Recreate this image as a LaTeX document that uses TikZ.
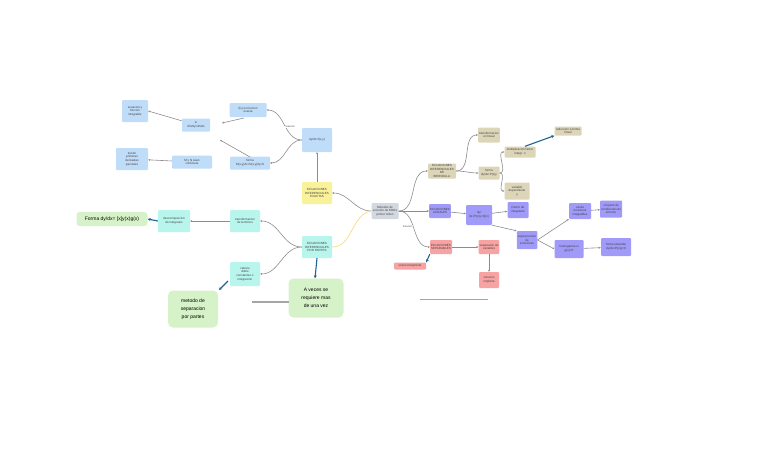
\documentclass[tikz,border=0pt]{standalone}
\usepackage{fontspec}
\setmainfont{Liberation Sans}
\usetikzlibrary{arrows.meta}
\definecolor{cblue}{HTML}{BFDCF8}
\definecolor{cyel}{HTML}{FAF29A}
\definecolor{ccyan}{HTML}{B8F5EC}
\definecolor{cgreen}{HTML}{D6F2C8}
\definecolor{cgray}{HTML}{D3D8E0}
\definecolor{ctan}{HTML}{DDD5B8}
\definecolor{cpur}{HTML}{A09AF8}
\definecolor{cred}{HTML}{F7A3A3}
\definecolor{carrow}{HTML}{1F6390}
\tikzset{
  bx/.style={rectangle,rounded corners=1pt,align=center,inner sep=1pt,font=\fontsize{3}{3.6}\selectfont,text=black!75},
  bl/.style={bx,fill=cblue},
  ye/.style={bx,fill=cyel},
  cy/.style={bx,fill=ccyan},
  gr/.style={bx,fill=cgreen,rounded corners=5pt,font=\fontsize{5}{8}\selectfont,text=black},
  ta/.style={bx,fill=ctan},
  pu/.style={bx,fill=cpur},
  rd/.style={bx,fill=cred},
  gy/.style={bx,fill=cgray},
  con/.style={draw=black!45,line width=0.6pt,-{Stealth[length=2pt,width=2pt]}},
  big/.style={draw=carrow,line width=1.1pt,-{Stealth[length=3pt,width=3pt]}},
  lab/.style={font=\fontsize{2.5}{3}\selectfont,text=black!70,fill=white,inner sep=0.5pt}
}
\begin{document}
\begin{tikzpicture}[x=1pt,y=-1pt]
\useasboundingbox (0,0) rectangle (768,466);
% left part
\node[bl,minimum width=26pt,minimum height=22pt] (ec) at (135,111) {ecuacion y\\funcion\\integrable};
\node[bl,minimum width=28pt,minimum height=13pt] (si) at (196,125) {si\\dm/dy=dn/dx};
\node[bl,minimum width=37pt,minimum height=14pt] (fx) at (248,110) {f(x) es funcion\\exacta};
\node[bl,minimum width=30pt,minimum height=24pt] (dy) at (317,140) {dy/dx=f(x,y)};
\node[bl,minimum width=40pt,minimum height=13pt] (fo) at (250,163) {forma\\M(x,y)dx+N(x,y)dy=0};
\node[bl,minimum width=40pt,minimum height=13pt] (mn) at (192,162) {M y N sean\\continuas};
\node[bl,minimum width=32pt,minimum height=22pt] (ti) at (132,159) {tienen\\primeras\\derivadas\\parciales};
\node[ye,minimum width=30pt,minimum height=22pt] (ex) at (317,193) {ECUACIONES\\DIFERENCIALES\\EXACTAS};
\node[cy,minimum width=30pt,minimum height=22pt] (pp) at (317,247) {ECUACIONES\\DIFERENCIALES\\POR PARTES};
\node[cy,minimum width=30pt,minimum height=22pt] (tr) at (245,221) {transformacion\\de terminos};
\node[cy,minimum width=32pt,minimum height=22pt] (de) at (174,221) {descomposicion\\de integrales};
\node[gr,minimum width=71pt,minimum height=14pt,rounded corners=3pt] (fd) at (112,219) {Forma dy/dx= [x]y(x)g(x)};
\node[cy,minimum width=30pt,minimum height=24pt] (ca) at (245,274) {calculo\\doble\\constantes o\\integracion};
\node[gr,minimum width=50pt,minimum height=37pt] (me) at (193,309) {metodo de\\separacion\\por partes};
\node[gr,minimum width=55pt,minimum height=39pt] (av) at (316,298) {A veces se\\requiere mas\\de una vez};
\coordinate (g1) at (252,302); \coordinate (g2) at (289,302);
\draw[black!35,line width=1.5pt] (g1) -- (g2);
\draw[con] (dy.west) to[out=180,in=0] node[lab,pos=0.45,above right=-1pt] {Solución} (fx.east);
\draw[con] (dy.west) to[out=180,in=0] (fo.east);
\coordinate (f1) at (244,118); \coordinate (f2) at (222,123);
\draw[con] (f1) -- (f2);
\coordinate (o1) at (250,157); \coordinate (o2) at (220,140);
\draw[con] (o1) -- (o2);
\draw[con] (si) -- (ec.east);
\draw[con] (mn) -- (ti);
\draw[con] (ex) -- (dy);
% right part
\node[gy,minimum width=27pt,minimum height=16pt] (mt) at (385,211) {Métodos de\\solución de EDOs\\primer orden};
\draw[con] (mt.west) to[out=180,in=0] (ex.east);
\draw[draw=cyel!80!orange,line width=0.7pt] (mt.west) to[out=190,in=0] (pp.east);
\draw[con] (pp.west) to[out=180,in=0] (tr.east);
\draw[con] (pp.west) to[out=180,in=0] (ca.east);
\draw[con] (tr) -- (de);
\draw[big] (de.west) -- (fd.east);
\coordinate (m1) at (228,281); \coordinate (m2) at (219,290);
\draw[big] (m1) -- (m2);
\draw[big] (pp.south) -- ([xshift=-1pt]av.north);
\node[ta,minimum width=28pt,minimum height=15pt] (be) at (442,171) {ECUACIONES\\DIFERENCIALES\\DE\\BERNOULLI};
\node[ta,minimum width=21pt,minimum height=15pt] (tl) at (489,135) {transformacion\\en lineal};
\node[ta,minimum width=21pt,minimum height=13pt] (fp) at (489,173) {forma\\dy/dx+P(x)y};
\node[ta,minimum width=31pt,minimum height=11pt] (mf) at (520,152) {multiplicacion factor\\integr. n};
\node[ta,minimum width=27pt,minimum height=9pt] (rl) at (568,131) {reduccion a forma\\lineal};
\node[ta,minimum width=25pt,minimum height=17pt] (vd) at (517,191) {variable\\dependiente\\y};
\node[pu,minimum width=21pt,minimum height=14pt] (el) at (440,211) {ECUACIONES\\LINEALES};
\node[pu,minimum width=26pt,minimum height=20pt] (dq) at (479,215) {dy/\\dx+P(x)y=Q(x)};
\node[pu,minimum width=21pt,minimum height=16pt] (fi) at (518,210) {Factor de\\integrante};
\node[pu,minimum width=20pt,minimum height=18pt] (su) at (527,240) {superposicion\\de\\soluciones};
\node[pu,minimum width=22pt,minimum height=16pt] (vf) at (580,211) {varias\\funciones\\integrables};
\node[pu,minimum width=22pt,minimum height=17pt] (cc) at (611,209) {conjunto de\\condiciones de\\entorno};
\node[pu,minimum width=29pt,minimum height=18pt] (ho) at (569,249) {homogenea si\\g(x)=0};
\node[pu,minimum width=30pt,minimum height=18pt] (fe) at (616,247) {forma estandar\\dy/dx+P(x)y=0};
\node[rd,minimum width=22pt,minimum height=14pt] (es) at (441,247) {ECUACIONES\\SEPARABLES};
\node[rd,minimum width=20pt,minimum height=14pt] (sv) at (489,247) {separacion de\\variables};
\node[rd,minimum width=20pt,minimum height=16pt] (si2) at (489,280) {solucion\\implicita};
\node[rd,minimum width=32pt,minimum height=7pt] (se) at (410,266) {solución/explicita};
\coordinate (h1) at (420,299); \coordinate (h2) at (488,299);
\draw[black!35,line width=0.8pt] (h1) -- (h2);
\draw[con] (mt.east) to[out=0,in=180] (be.west);
\draw[con] (mt.east) -- (el.west);
\draw[con] (mt.east) to[out=0,in=180] node[lab,pos=0.45,left=0pt] {Solución} (es.west);
\draw[con] (be.east) to[out=0,in=180] (tl.west);
\draw[con] (be.east) to[out=0,in=180] (fp.west);
\draw[con] (fp.east) to[out=0,in=180] (mf.west);
\draw[con] (fp.east) to[out=0,in=180] (vd.west);
\draw[big] ([xshift=5pt]mf.north) -- (rl.south west);
\draw[con] (el) -- (dq);
\draw[con] (dq) -- (fi);
\draw[con] (dq.south east) -- (su.north west);
\draw[con] (su.east) -- (vf.south west);
\draw[con] (su.east) -- (ho.west);
\draw[con] (vf) -- (cc);
\draw[con] (ho) -- (fe);
\draw[con] (es) -- (sv);
\draw[con] (sv) -- (si2);
\draw[big] (es.south west) -- (se.north east);
\end{tikzpicture}
\end{document}
